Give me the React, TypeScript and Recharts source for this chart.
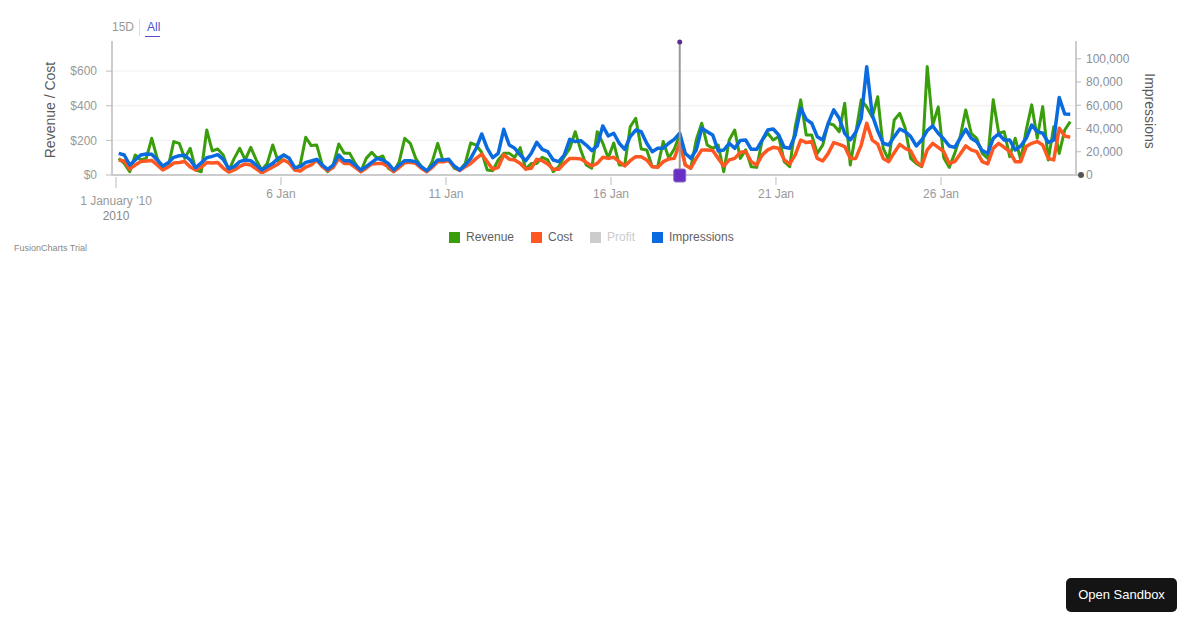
import React from 'react';
import {
  ComposedChart,
  Line,
  ReferenceDot,
  ReferenceLine,
  XAxis,
  YAxis,
} from 'recharts';

// 4 hour buckets, six per day, 1 Jan to 29 Jan 2010
const revenue = [
  96, 67, 19, 116, 87, 96,
  212, 96, 39, 48, 193, 183,
  96, 154, 29, 19, 260, 139,
  150, 116, 25, 96, 154, 87,
  160, 87, 29, 67, 173, 77,
  116, 96, 29, 60, 218, 170,
  173, 58, 19, 58, 179, 125,
  125, 67, 19, 96, 131, 96,
  110, 39, 19, 77, 212, 183,
  96, 48, 19, 77, 183, 77,
  87, 39, 29, 67, 185, 173,
  130, 29, 25, 87, 125, 125,
  102, 158, 33, 67, 67, 102,
  87, 19, 48, 106, 154, 250,
  144, 58, 39, 250, 185, 98,
  185, 58, 58, 279, 328, 150,
  145, 48, 48, 193, 98, 150,
  231, 58, 39, 202, 299, 173,
  154, 173, 19, 202, 260, 96,
  145, 48, 44, 202, 241, 202,
  222, 77, 48, 279, 434, 231,
  231, 125, 173, 299, 289, 250,
  414, 58, 241, 434, 393, 335,
  452, 154, 87, 318, 356, 270,
  96, 67, 48, 626, 289, 393,
  100, 44, 125, 222, 376, 241,
  212, 125, 96, 434, 241, 250,
  106, 212, 87, 260, 405, 212,
  395, 87, 279, 125, 260, 308,
];

const cost = [
  87, 81, 35, 58, 78, 81,
  84, 58, 29, 46, 69, 72,
  78, 46, 29, 46, 72, 69,
  72, 40, 17, 29, 49, 64,
  58, 35, 12, 29, 46, 64,
  87, 69, 29, 23, 46, 58,
  87, 48, 25, 44, 96, 67,
  67, 44, 19, 39, 64, 67,
  67, 48, 19, 44, 71, 73,
  67, 39, 19, 44, 77, 77,
  83, 48, 25, 48, 67, 96,
  121, 77, 33, 44, 116, 91,
  87, 67, 35, 39, 91, 83,
  64, 33, 33, 67, 96, 96,
  92, 73, 52, 67, 102, 96,
  102, 77, 52, 83, 106, 106,
  87, 48, 44, 77, 92, 96,
  183, 58, 39, 96, 145, 145,
  141, 96, 52, 87, 96, 131,
  135, 77, 58, 116, 145, 160,
  154, 87, 64, 116, 202, 187,
  193, 96, 81, 125, 187, 177,
  164, 96, 96, 173, 299, 202,
  178, 96, 77, 129, 177, 154,
  139, 77, 52, 145, 183, 160,
  135, 67, 77, 121, 168, 145,
  135, 77, 64, 154, 183, 160,
  135, 77, 77, 164, 183, 193,
  173, 96, 87, 270, 225, 218,
];

const impressions = [
  18600, 17200, 8600, 12900, 17200, 18100,
  17800, 12900, 7750, 10600, 15200, 16600,
  16900, 12900, 6300, 10600, 14900, 16000,
  17500, 13500, 5450, 7200, 11500, 12900,
  12300, 8600, 4300, 7200, 10000, 14350,
  17200, 14350, 6300, 7200, 10900, 12050,
  13500, 8600, 4900, 8600, 17200, 12300,
  12300, 8600, 4300, 7200, 10900, 14350,
  12900, 10000, 4300, 8600, 12300, 12300,
  11500, 7200, 3700, 8000, 12900, 12900,
  13500, 7750, 4300, 8600, 14350, 23000,
  35300, 23000, 14900, 18650, 39300, 25800,
  23000, 17200, 12300, 18700, 28100, 22100,
  20100, 12900, 11500, 17200, 30700, 28700,
  29600, 25800, 21000, 25000, 42200, 33600,
  35900, 27300, 22100, 33000, 38700, 37300,
  27300, 20100, 23000, 23000, 27300, 30700,
  35900, 18650, 14350, 21500, 40200, 37300,
  34400, 20700, 21500, 27300, 23000, 29600,
  30100, 22100, 22100, 30100, 38700, 39600,
  34400, 23800, 23000, 34400, 57400, 47900,
  44500, 33000, 30100, 44500, 56000, 48800,
  35900, 30100, 36700, 48800, 93100, 51700,
  38000, 27300, 25800, 33000, 39600, 37300,
  33000, 25000, 30100, 38200, 42200, 35900,
  31000, 25000, 23800, 31600, 39300, 31600,
  28700, 21000, 18650, 31600, 35300, 30100,
  30100, 21500, 25000, 31600, 43000, 37300,
  35900, 28100, 30100, 66600, 52500, 52200,
];

const tickHours = [0, 120, 240, 360, 480, 600];
const tickLabels = ["1 January '10", '6 Jan', '11 Jan', '16 Jan', '21 Jan', '26 Jan'];
const revenueTicks = [0, 200, 400, 600];
const impressionTicks = [0, 20000, 40000, 60000, 80000, 100000];
const legendNames = ['Revenue', 'Cost', 'Profit', 'Impressions'];
const legendColors = ['#3a9d0b', '#ff5722', '#cccccc', '#0a6be0'];

const chartData = revenue.map((value, i) => ({
  hour: 2 + i * 4,
  revenue: value,
  cost: cost[i],
  impressions: impressions[i],
}));

const FONT = '"Liberation Sans", Arial, sans-serif';
const HOUR_MIN = -2.9;
const HOUR_MAX = 698.2;
const REV_MAX = 774;
const SELECTED_HOUR = chartData[102].hour;

const XTick = ({ x, y, payload }: any) => {
  const first = payload.value === 0;
  const label = tickLabels[tickHours.indexOf(payload.value)];
  return (
    <g fontFamily={FONT} fontSize={12} textAnchor="middle">
      <line x1={x} x2={x} y1={y - 6} y2={first ? y + 5 : y + 2} stroke="#bbb" />
      <text x={x} y={first ? y + 22 : y + 15} fill="#999">
        {label}
      </text>
      {first && (
        <text x={x} y={y + 37} fill="#888">
          2010
        </text>
      )}
    </g>
  );
};

const AxisTitle = ({ x, y, angle, text }: any) => (
  <text
    x={x}
    y={y}
    transform={`rotate(${angle} ${x} ${y})`}
    textAnchor="middle"
    dominantBaseline="middle"
    fontFamily={FONT}
    fontSize={14}
    fill="#5a5a5a"
  >
    {text}
  </text>
);

const legendLeft = [449, 531, 590, 652];

export default function App() {
  return (
    <div style={{ position: 'fixed', left: 0, top: 0, width: 1200, height: 630, background: '#fff', fontFamily: FONT }}>
      <div style={{ position: 'absolute', left: 0, top: 0 }}>
        <ComposedChart
          width={1200}
          height={260}
          data={chartData}
          margin={{ left: 52, right: 64, top: 41, bottom: 45 }}
        >
          <XAxis
            dataKey="hour"
            type="number"
            domain={[HOUR_MIN, HOUR_MAX]}
            ticks={tickHours}
            interval={0}
            height={40}
            axisLine={{ stroke: '#ccc', strokeWidth: 2 }}
            tickLine={false}
            tick={<XTick />}
          />
          <YAxis
            yAxisId="rev"
            width={60}
            domain={[0, REV_MAX]}
            ticks={revenueTicks}
            interval={0}
            axisLine={{ stroke: '#ccc', strokeWidth: 2 }}
            tickLine={{ stroke: '#bbb' }}
            tickSize={6}
            tickMargin={9}
            tickFormatter={(v: number) => `$${v}`}
            tick={{ fontSize: 12, fontFamily: FONT, fill: '#999' }}
            label={{ content: () => <AxisTitle x={51} y={110} angle={-90} text="Revenue / Cost" /> }}
          />
          <YAxis
            yAxisId="imp"
            orientation="right"
            width={60}
            domain={[0, 115300]}
            ticks={impressionTicks}
            interval={0}
            axisLine={{ stroke: '#ccc', strokeWidth: 2 }}
            tickLine={{ stroke: '#bbb' }}
            tickSize={5}
            tickMargin={5}
            tickFormatter={(v: number) => v.toLocaleString('en-US')}
            tick={{ fontSize: 12, fontFamily: FONT, fill: '#8a8f99' }}
            label={{ content: () => <AxisTitle x={1149} y={111} angle={90} text="Impressions" /> }}
          />
          {revenueTicks.slice(1).map((t) => (
            <ReferenceLine key={t} yAxisId="rev" y={t} stroke="#efefef" />
          ))}
          <Line yAxisId="rev" dataKey="revenue" stroke="#3a9d0b" strokeWidth={3} strokeLinejoin="round" dot={false} isAnimationActive={false} />
          <Line yAxisId="rev" dataKey="cost" stroke="#ff5722" strokeWidth={3.5} strokeLinejoin="round" dot={false} isAnimationActive={false} />
          <Line yAxisId="imp" dataKey="impressions" stroke="#0a6be0" strokeWidth={3.5} strokeLinejoin="round" dot={false} isAnimationActive={false} />
          <ReferenceLine yAxisId="rev" x={SELECTED_HOUR} stroke="#999" strokeWidth={2} />
          <ReferenceDot
            yAxisId="rev"
            x={SELECTED_HOUR}
            y={REV_MAX}
            ifOverflow="visible"
            shape={({ cx, cy }: any) => <circle cx={cx} cy={cy + 1} r={2.5} fill="#5e2d91" />}
          />
          <ReferenceDot
            yAxisId="rev"
            x={SELECTED_HOUR}
            y={0}
            ifOverflow="visible"
            shape={({ cx, cy }: any) => (
              <rect x={cx - 6} y={cy - 6} width={12} height={13} rx={2} fill="#6a2fc4" stroke="#8a6fc0" />
            )}
          />
          <ReferenceDot
            yAxisId="rev"
            x={HOUR_MAX}
            y={0}
            ifOverflow="visible"
            shape={({ cx, cy }: any) => (
              <g>
                <line x1={cx} x2={cx + 5} y1={cy} y2={cy} stroke="#bbb" />
                <circle cx={cx + 5} cy={cy} r={3} fill="#555" />
              </g>
            )}
          />
        </ComposedChart>
      </div>

      {/* range selector */}
      <span style={{ position: 'absolute', left: 112, top: 20, fontSize: 12, lineHeight: '14px', color: '#999' }}>15D</span>
      <div style={{ position: 'absolute', left: 139, top: 19, width: 1, height: 17, background: '#ddd' }} />
      <span style={{ position: 'absolute', left: 147, top: 20, fontSize: 12, lineHeight: '14px', color: '#4f55d0' }}>All</span>
      <div style={{ position: 'absolute', left: 145, top: 36, width: 15, height: 1, background: '#5648d0' }} />

      {/* legend */}
      {legendNames.map((name, i) => (
        <div key={name}>
          <div style={{ position: 'absolute', left: legendLeft[i], top: 232, width: 11, height: 11, background: legendColors[i] }} />
          <span
            style={{
              position: 'absolute',
              left: legendLeft[i] + 17,
              top: 230,
              fontSize: 12,
              lineHeight: '14px',
              color: name === 'Profit' ? '#ccc' : '#5f5f5f',
            }}
          >
            {name}
          </span>
        </div>
      ))}

      <span style={{ position: 'absolute', left: 14, top: 243, fontSize: 9, lineHeight: '10px', color: '#888' }}>FusionCharts Trial</span>

      <div
        style={{
          position: 'absolute',
          left: 1066,
          top: 578,
          width: 111,
          height: 34,
          background: '#141414',
          borderRadius: 5,
          color: '#fff',
          fontSize: 13,
          lineHeight: '34px',
          textAlign: 'center',
        }}
      >
        Open Sandbox
      </div>
    </div>
  );
}
